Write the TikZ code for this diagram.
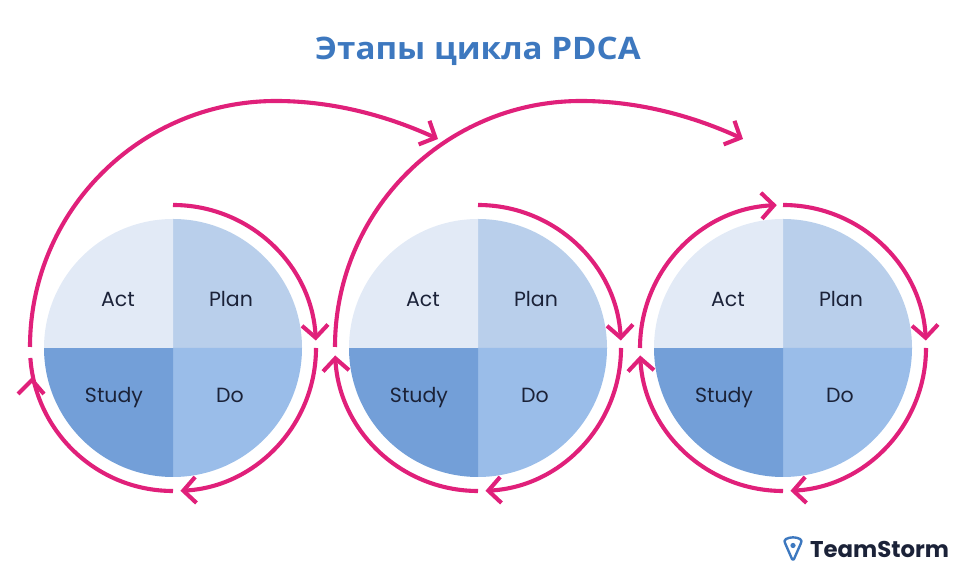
\documentclass[tikz,border=0pt]{standalone}
\usepackage{fontspec}
\usepackage{tikz}
\usetikzlibrary{arrows.meta}
\setmainfont{Poppins}
\newfontfamily\titlefont[FakeStretch=1.07]{Open Sans}
\definecolor{actfill}{HTML}{E2EAF6}
\definecolor{planfill}{HTML}{B9CFEB}
\definecolor{dofill}{HTML}{9ABDE9}
\definecolor{studyfill}{HTML}{739FD8}
\definecolor{ringpink}{HTML}{E0207A}
\definecolor{titleblue}{HTML}{3D78BF}
\definecolor{inkdark}{HTML}{1B2238}
\tikzset{
	phase/.style={anchor=base, inner sep=0pt, text=inkdark, font=\fontsize{20.5}{22}\selectfont}
}
\tikzset{
	ring/.style={draw=ringpink, line width=4.1pt},
	ringarrow/.style={ring, -{Straight Barb[length=12.5pt,width=26pt]}}
}

\begin{document}
\begin{tikzpicture}[x=1pt,y=1pt]
	\useasboundingbox (0,0) rectangle (957,569);
	\coordinate (c1) at (173,221);
	\coordinate (c2) at (478,221);
	\coordinate (c3) at (783,221);

	\node (title) [inner sep=0pt, text=titleblue, font=\titlefont\bfseries\fontsize{31}{34}\selectfont] at (478,518) {Этапы цикла PDCA};

	% first circle
	\fill[planfill] (c1) -- ++(0,129pt) arc[start angle=90, end angle=0, radius=129pt] -- cycle;
	\fill[dofill] (c1) -- ++(129pt,0) arc[start angle=0, end angle=-90, radius=129pt] -- cycle;
	\fill[studyfill] (c1) -- ++(0,-129pt) arc[start angle=-90, end angle=-180, radius=129pt] -- cycle;
	\fill[actfill] (c1) -- ++(-129pt,0) arc[start angle=180, end angle=90, radius=129pt] -- cycle;
	\node (act1) [phase] at (118,262) {Act};
	\node (plan1) [phase] at (231,262) {Plan};
	\node (study1) [phase] at (114,166) {Study};
	\node (do1) [phase] at (230,166) {Do};

	% second circle
	\fill[planfill] (c2) -- ++(0,129pt) arc[start angle=90, end angle=0, radius=129pt] -- cycle;
	\fill[dofill] (c2) -- ++(129pt,0) arc[start angle=0, end angle=-90, radius=129pt] -- cycle;
	\fill[studyfill] (c2) -- ++(0,-129pt) arc[start angle=-90, end angle=-180, radius=129pt] -- cycle;
	\fill[actfill] (c2) -- ++(-129pt,0) arc[start angle=180, end angle=90, radius=129pt] -- cycle;
	\node (act2) [phase] at (423,262) {Act};
	\node (plan2) [phase] at (536,262) {Plan};
	\node (study2) [phase] at (419,166) {Study};
	\node (do2) [phase] at (535,166) {Do};

	% third circle
	\fill[planfill] (c3) -- ++(0,129pt) arc[start angle=90, end angle=0, radius=129pt] -- cycle;
	\fill[dofill] (c3) -- ++(129pt,0) arc[start angle=0, end angle=-90, radius=129pt] -- cycle;
	\fill[studyfill] (c3) -- ++(0,-129pt) arc[start angle=-90, end angle=-180, radius=129pt] -- cycle;
	\fill[actfill] (c3) -- ++(-129pt,0) arc[start angle=180, end angle=90, radius=129pt] -- cycle;
	\node (act3) [phase] at (728,262) {Act};
	\node (plan3) [phase] at (841,262) {Plan};
	\node (study3) [phase] at (724,166) {Study};
	\node (do3) [phase] at (840,166) {Do};

	% rings
	\draw[ringarrow] (c1) ++(0,143pt) arc[start angle=90, end angle=3, radius=143pt];
	\draw[ringarrow] (c1) ++(143pt,0) arc[start angle=0, end angle=-87, radius=143pt];
	\draw[ring] (c1) ++(0,-143pt) arc[start angle=-90, end angle=-176, radius=143pt];
	\draw[ring, line cap=butt] (18,175) -- (32,189) -- (44,175);

	\draw[ringarrow] (c2) ++(0,143pt) arc[start angle=90, end angle=3, radius=143pt];
	\draw[ringarrow] (c2) ++(143pt,0) arc[start angle=0, end angle=-87, radius=143pt];
	\draw[ringarrow] (c2) ++(0,-143pt) arc[start angle=-90, end angle=-177, radius=143pt];

	\draw[ringarrow] (c3) ++(0,143pt) arc[start angle=90, end angle=3, radius=143pt];
	\draw[ringarrow] (c3) ++(143pt,0) arc[start angle=0, end angle=-87, radius=143pt];
	\draw[ringarrow] (c3) ++(0,-143pt) arc[start angle=-90, end angle=-177, radius=143pt];
	\draw[ringarrow] (c3) ++(-143pt,0) arc[start angle=180, end angle=92.5, radius=143pt];

	% long jumps
	\draw[ringarrow] (30,222) arc[start angle=180, end angle=90, radius=246pt] .. controls (335,468) and (390,452) .. (438,430);
	\draw[ringarrow] (335,222) arc[start angle=180, end angle=90, radius=246pt] .. controls (640,468) and (695,452) .. (743,430);

	% logo
	\draw[titleblue, line width=2.4pt, line join=round] (786,30) .. controls (790,32.2) and (796,32.2) .. (800,30) .. controls (802,29) and (801.5,27.5) .. (801,26) -- (794,10) .. controls (793.5,9) and (792.5,9) .. (792,10) -- (785,26) .. controls (784.5,27.5) and (784,29) .. (786,30) -- cycle;
	\fill[titleblue] (793,23.5) circle[radius=2.6pt];
	\node (logo) [anchor=west, inner sep=0pt, text=inkdark, font=\bfseries\fontsize{22.8}{24}\selectfont] at (810,20) {TeamStorm};
\end{tikzpicture}
\end{document}
